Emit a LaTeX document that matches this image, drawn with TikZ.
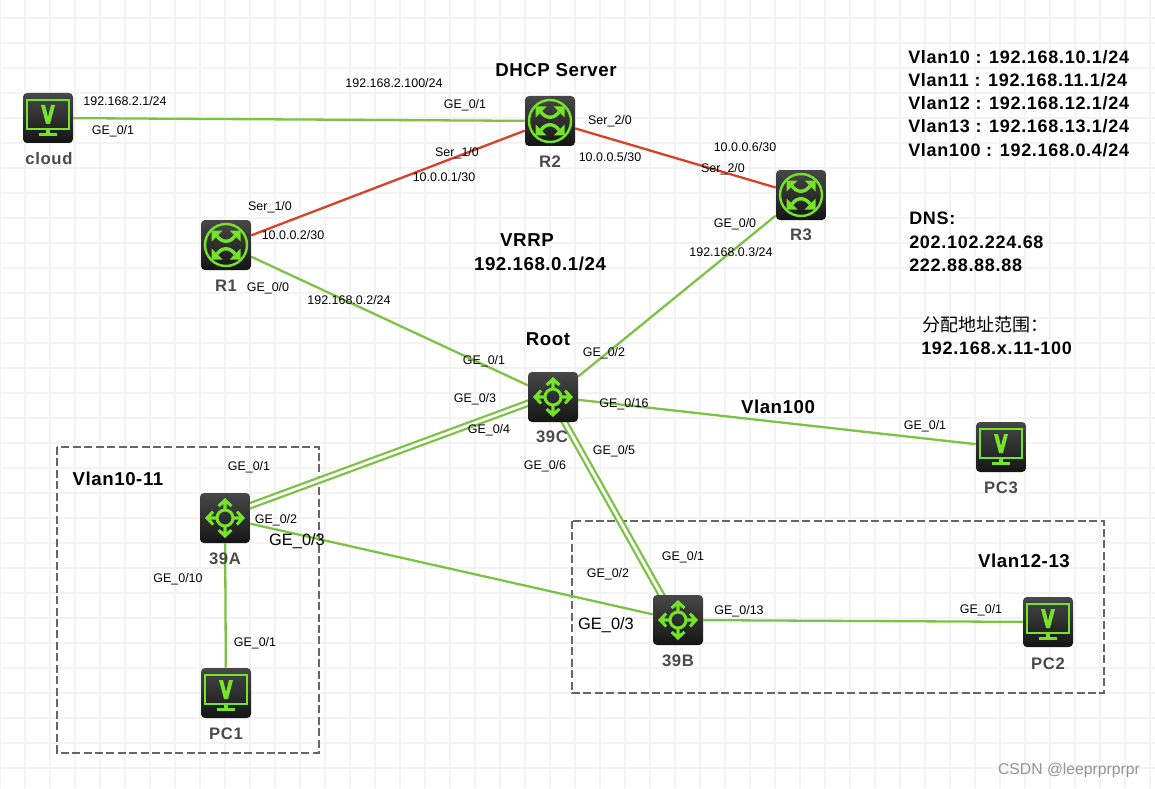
\documentclass[tikz,border=0pt]{standalone}
\usepackage{fontspec}
\usetikzlibrary{backgrounds}
\setmainfont{Liberation Sans}
\newfontfamily\cjk{Noto Sans CJK SC}
\newfontfamily\boldA[LetterSpace=3.0]{Liberation Sans Bold}
\newfontfamily\boldB[LetterSpace=3.9]{Liberation Sans Bold}
\definecolor{gridc}{HTML}{F3F3F3}
\definecolor{linkg}{HTML}{7DC242}
\definecolor{linkr}{HTML}{D8402A}
\definecolor{icong}{HTML}{76E32B}
\definecolor{devlab}{HTML}{4A4A4A}
\definecolor{boxc}{HTML}{666666}
\tikzset{
  px/.style={line width=#1*0.75pt},
  dev/.style={draw=none,minimum size=37.5pt,inner sep=0pt,rounded corners=3pt,top color=black!72,bottom color=black!92,shading angle=0},
  glink/.style={draw=linkg,px=2.3},
  dlink/.style={draw=linkg,px=2.3,double=white,double distance=2.1pt},
  rlink/.style={draw=linkr,px=2.3},
  lab/.style={font=\fontsize{9.35pt}{11pt}\selectfont,inner sep=0pt,text=black},
  lab2/.style={font=\fontsize{12.3pt}{14pt}\selectfont,inner sep=0pt,text=black},
  devname/.style={font=\boldB\fontsize{12.5pt}{15pt}\selectfont,inner sep=0pt,text=devlab},
  head/.style={font=\boldA\fontsize{14pt}{16pt}\selectfont,inner sep=0pt,text=black},
  info/.style={font=\boldB\fontsize{13.5pt}{17.4pt}\selectfont,inner sep=0pt,text=black,align=left,anchor=north west},
  zone/.style={draw=boxc,px=2,dash pattern=on 6pt off 2.6pt},
  pcicon/.pic={
    \draw[icong,px=2.4] (-21,-18) rectangle (21,11);
    \fill[icong] (-7,-13) -- (-3,-13) -- (0,-1) -- (3,-13) -- (7,-13) -- (2,6) -- (-2,6) -- cycle;
    \fill[icong] (-2,12) rectangle (2,15);
    \fill[icong] (-9,15) rectangle (9,18);
  },
  routericon/.pic={
    \draw[icong,px=2.4] (0,0) circle (21);
    \draw[icong,px=3.4] (-9,-9) .. controls (-4,-2) and (4,-2) .. (9,-9);
    \draw[icong,px=3.4] (-9,9) .. controls (-4,2) and (4,2) .. (9,9);
    \foreach \sx/\sy in {1/1,1/-1,-1/1,-1/-1}{
      \fill[icong] (\sx*14.5,\sy*14.5) -- (\sx*3.5,\sy*14.5) -- (\sx*14.5,\sy*3.5) -- cycle;
    }
  },
  swicon/.pic={
    \draw[icong,px=3] (0,0) circle (8);
    \foreach \a in {0,90,180,270}{
      \begin{scope}[rotate=\a]
        \fill[icong] (20,0) -- (13,-7.5) -- (11,-5.5) -- (14,-1.7) -- (8,-1.7) -- (8,1.7) -- (14,1.7) -- (11,5.5) -- (13,7.5) -- cycle;
      \end{scope}
    }
  }
}
\begin{document}
\begin{tikzpicture}[x=0.75pt,y=-0.75pt]
\useasboundingbox (0,0) rectangle (1155,788);
% devices
\node[dev] (cloud) at (48,118) {};
\node[dev] (R2) at (550,121) {};
\node[dev] (R1) at (226,245) {};
\node[dev] (R3) at (801,195) {};
\node[dev] (C39) at (553,397) {};
\node[dev] (A39) at (225,518) {};
\node[dev] (B39) at (678,620) {};
\node[dev] (PC1) at (226,693) {};
\node[dev] (PC2) at (1048,622) {};
\node[dev] (PC3) at (1001,447) {};
\pic at (cloud) {pcicon};
\pic at (PC1) {pcicon};
\pic at (PC2) {pcicon};
\pic at (PC3) {pcicon};
\pic at (R1) {routericon};
\pic at (R2) {routericon};
\pic at (R3) {routericon};
\pic at (C39) {swicon};
\pic at (A39) {swicon};
\pic at (B39) {swicon};
\begin{scope}[on background layer]
\fill[white] (0,0) rectangle (1155,788);
% grid
\foreach \gx in {0,25,...,1150}{\draw[gridc,px=2.5] (\gx,0) -- (\gx,788);}
\foreach \gy in {18,43,...,788}{\draw[gridc,px=2.5] (0,\gy) -- (1155,\gy);}
% zones
\draw[zone] (57,447) rectangle (319,753);
\draw[zone] (572,521) rectangle (1104,693);
% links
\draw[glink] (cloud) -- (R2);
\draw[rlink] (R1) -- (R2);
\draw[rlink] (R2) -- (R3);
\draw[glink] (R1) -- (C39);
\draw[glink] (R3) -- (C39);
\draw[glink] (C39) -- (PC3);
\draw[dlink] ([yshift=2.25pt]C39.center) -- ([yshift=2.25pt]A39.center);
\draw[dlink] ([xshift=-1.9pt]C39.center) -- ([xshift=-1.9pt]B39.center);
\draw[glink] (A39) -- (B39);
\draw[glink] (A39) -- (PC1);
\draw[glink] (B39) -- (PC2);
\end{scope}
% device names
\node[devname] (ncloud) at (49,159) {cloud};
\node[devname] (nR2) at (550,162) {R2};
\node[devname] (nR1) at (226,286) {R1};
\node[devname] (nR3) at (801,235) {R3};
\node[devname] (nC) at (552,437) {39C};
\node[devname] (nA) at (225,559) {39A};
\node[devname] (nB) at (678,661) {39B};
\node[devname] (nPC1) at (226,734) {PC1};
\node[devname] (nPC2) at (1048,664) {PC2};
\node[devname] (nPC3) at (1001,488) {PC3};
% small labels
\node[lab] (l1) at (125,101) {192.168.2.1/24};
\node[lab] (l2) at (113,131) {GE\_0/1};
\node[lab] (l3) at (394,83) {192.168.2.100/24};
\node[lab] (l4) at (465,105) {GE\_0/1};
\node[lab] (l5) at (610,121) {Ser\_2/0};
\node[lab] (l6) at (610,157) {10.0.0.5/30};
\node[lab] (l7) at (745,147) {10.0.0.6/30};
\node[lab] (l8) at (723,169) {Ser\_2/0};
\node[lab] (l9) at (457,153) {Ser\_1/0};
\node[lab] (l10) at (444,177) {10.0.0.1/30};
\node[lab] (l11) at (270,207) {Ser\_1/0};
\node[lab] (l12) at (293,235) {10.0.0.2/30};
\node[lab] (l13) at (268,288) {GE\_0/0};
\node[lab] (l14) at (349,300) {192.168.0.2/24};
\node[lab] (l15) at (735,224) {GE\_0/0};
\node[lab] (l16) at (731,252) {192.168.0.3/24};
\node[lab] (l17) at (484,361) {GE\_0/1};
\node[lab] (l18) at (604,353) {GE\_0/2};
\node[lab] (l19) at (475,399) {GE\_0/3};
\node[lab] (l20) at (489,430) {GE\_0/4};
\node[lab] (l21) at (624,404) {GE\_0/16};
\node[lab] (l22) at (925,426) {GE\_0/1};
\node[lab] (l23) at (614,451) {GE\_0/5};
\node[lab] (l24) at (545,466) {GE\_0/6};
\node[lab] (l25) at (249,467) {GE\_0/1};
\node[lab] (l26) at (276,520) {GE\_0/2};
\node[lab] (l27) at (178,579) {GE\_0/10};
\node[lab] (l28) at (255,643) {GE\_0/1};
\node[lab] (l29) at (683,557) {GE\_0/1};
\node[lab] (l30) at (608,574) {GE\_0/2};
\node[lab] (l31) at (739,611) {GE\_0/13};
\node[lab] (l32) at (981,610) {GE\_0/1};
\node[lab2] (l33) at (297,541) {GE\_0/3};
\node[lab2] (l34) at (606,625) {GE\_0/3};
% headings
\node[head] (h1) at (556,70) {DHCP Server};
\node[head] (h2) at (527,240) {VRRP};
\node[head] (h3) at (540,264) {192.168.0.1/24};
\node[head] (h4) at (548,339) {Root};
\node[head] (h5) at (778,407) {Vlan100};
\node[head] (h6) at (118,479) {Vlan10-11};
\node[head] (h7) at (1024,561) {Vlan12-13};
% info blocks
\node[info] (i1) at (908,50) {Vlan10 : 192.168.10.1/24\\Vlan11 : 192.168.11.1/24\\Vlan12 : 192.168.12.1/24\\Vlan13 : 192.168.13.1/24\\Vlan100 : 192.168.0.4/24};
\node[info] (i2) at (909,212) {DNS:\\202.102.224.68\\222.88.88.88};
\node[font={\cjk\fontsize{13.5pt}{15pt}\selectfont},inner sep=0pt,anchor=west] (i3) at (922,325) {分配地址范围：};
\node[info] (i4) at (921,342) {192.168.x.11-100};
% watermark
\node[font=\fontsize{11.8pt}{13pt}\selectfont,text=black!42,inner sep=0pt] (wm) at (1069,770) {CSDN @leeprprprpr};
\end{tikzpicture}
\end{document}
